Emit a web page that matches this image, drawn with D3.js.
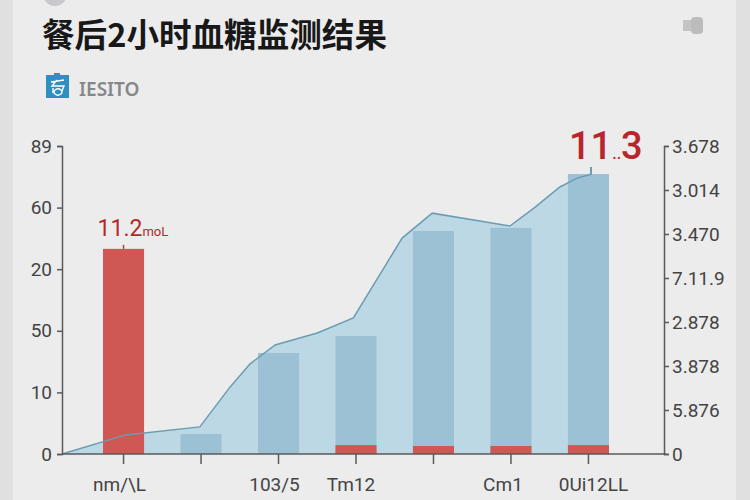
<!DOCTYPE html>
<html lang="zh">
<head>
<meta charset="UTF-8">
<title>餐后2小时血糖监测结果</title>
<style>
	body { margin: 0; background: #ececec; }
	svg { display: block; }
	text { font-family: Roboto, sans-serif; }
	.axis text { font-size: 19px; fill: #444; }
	.axis line, .axis path { stroke: #5a5a5a; stroke-width: 1.5; }
</style>
</head>
<body>
<svg width="750" height="500"></svg>
<script src="https://d3js.org/d3.v7.min.js"></script>
<script>
// values
var categories = ["nm/\\L", "", "103/5", "Tm12", "", "Cm1", "0Ui12LL"];
var blueBars = [0, 6.5, 32.8, 38.3, 72.4, 73.4, 90.9];
var redBars = [66.6, 0, 0, 2.9, 2.6, 2.6, 2.9];
var lineX = [0, 10.6, 22.9, 27.9, 31.2, 35.4, 42.4, 48.4, 56.5, 61.5, 74.4, 78.5, 82.7, 85.5, 88];
var lineY = [0, 6.2, 8.8, 21.7, 29.2, 35.4, 39.3, 44.2, 70.1, 78.2, 74, 80, 86.7, 89.5, 90.9];
var leftTicks = ["0", "10", "50", "20", "60", "89"];
var rightTicks = ["0", "5.876", "3.878", "2.878", "7.11.9", "3.470", "3.014", "3.678"];

var svg = d3.select("svg");

var y = d3.scaleLinear().domain([0, 100]).range([454, 146]);
var xLine = d3.scaleLinear().domain([0, 100]).range([62, 664]);
var x = d3.scaleBand().domain(d3.range(categories.length)).range([84.8, 627.2])
	.paddingInner(0.47).paddingOuter(0.235);
var yLeft = d3.scalePoint().domain(leftTicks).range([454, 146]);
var yRight = d3.scalePoint().domain(rightTicks).range([454, 146]);

// page background strips
svg.append("rect").attr("width", 13).attr("height", 500).attr("fill", "#e0e0e0");
svg.append("rect").attr("x", 736).attr("width", 14).attr("height", 500).attr("fill", "#e0e0e0");
svg.append("circle").attr("cx", 55).attr("cy", -6).attr("r", 12).attr("fill", "#c9c9cb");

// speaker-like icon top right
svg.append("rect").attr("x", 683).attr("y", 20).attr("width", 9).attr("height", 11).attr("fill", "#c4c4c4");
svg.append("rect").attr("x", 691).attr("y", 17).attr("width", 12).attr("height", 17).attr("rx", 4).attr("fill", "#bcbcbc");

svg.append("text").attr("x", 42).attr("y", 47)
	.style("font-family", "'Noto Sans CJK SC'").style("font-weight", 700)
	.style("font-size", "32.6px").attr("fill", "#181818")
	.text("餐后2小时血糖监测结果");

// logo
var logo = svg.append("g").attr("transform", "translate(46,73)");
logo.append("rect").attr("x", 8).attr("width", 6).attr("height", 4).attr("fill", "#2f8fc0");
logo.append("rect").attr("y", 2).attr("width", 23).attr("height", 23).attr("fill", "#2f8fc0");
logo.append("path").attr("d", "M5 9 L18 7 M11 7 L6 13 L18 13 L16 18 M7 15 V20 M9 21 a4 3 0 1 0 6 -4 a4 3 0 1 0 -6 4")
	.attr("fill", "none").attr("stroke", "#fff").attr("stroke-width", 1.4);
svg.append("text").attr("x", 79).attr("y", 96)
	.style("font-family", "'Noto Sans'")
	.style("font-size", "19px").style("font-weight", 600).attr("fill", "#85888b").text("IESITO");

// area and bars
svg.append("path").datum(d3.range(lineX.length))
	.attr("fill", "#bcd8e5")
	.attr("d", d3.area().x(function (i) { return xLine(lineX[i]); }).y0(y(0)).y1(function (i) { return y(lineY[i]); }));

svg.selectAll(".blue").data(blueBars).enter().append("rect")
	.attr("class", "blue")
	.attr("x", function (d, i) { return x(i); })
	.attr("y", function (d) { return y(d); })
	.attr("width", x.bandwidth())
	.attr("height", function (d) { return y(0) - y(d); })
	.attr("fill", "#9cc1d4");

svg.selectAll(".red").data(redBars).enter().append("rect")
	.attr("class", "red")
	.attr("x", function (d, i) { return x(i); })
	.attr("y", function (d) { return y(d); })
	.attr("width", x.bandwidth())
	.attr("height", function (d) { return y(0) - y(d); })
	.attr("fill", "#cf5855");

svg.append("path").datum(d3.range(lineX.length))
	.attr("fill", "none").attr("stroke", "#6a9db3").attr("stroke-width", 1.5)
	.attr("d", d3.line().x(function (i) { return xLine(lineX[i]); }).y(function (i) { return y(lineY[i]); }));

// axes
var bottom = svg.append("g").attr("class", "axis").attr("transform", "translate(0,454)")
	.call(d3.axisBottom(x).tickSizeOuter(0).tickSize(10).tickPadding(14).tickFormat(function (i) { return categories[i]; }));
bottom.select(".domain").remove();
var labelShift = [-4, 0, -4, -5, 0, -8, 5];
bottom.selectAll("text").attr("dx", function (d, i) { return labelShift[i]; });
svg.append("line").attr("x1", xLine(0)).attr("x2", xLine(100) + 2).attr("y1", y(0)).attr("y2", y(0))
	.attr("stroke", "#5a5a5a").attr("stroke-width", 1.5);

svg.append("g").attr("class", "axis").attr("transform", "translate(62,0)")
	.call(d3.axisLeft(yLeft).tickSizeOuter(0).tickSize(5).tickPadding(5));
svg.append("g").attr("class", "axis").attr("transform", "translate(664,0)")
	.call(d3.axisRight(yRight).tickSizeOuter(0).tickSize(5).tickPadding(3));

// value labels
var red = "#b8262b";
var lab1 = svg.append("text").attr("x", x(0) + x.bandwidth() / 2 - 26).attr("y", 236)
	.attr("fill", red).style("font-size", "23px");
lab1.append("tspan").text("11.2");
lab1.append("tspan").style("font-size", "13px").text("moL");
var lab2 = svg.append("text").attr("x", 569).attr("y", 159)
	.attr("fill", red).style("font-size", "38px").style("font-weight", 500);
lab2.append("tspan").text("11");
lab2.append("tspan").style("font-size", "16px").text("..");
lab2.append("tspan").text("3");

svg.append("line").attr("x1", x(0) + x.bandwidth() / 2).attr("x2", x(0) + x.bandwidth() / 2)
	.attr("y1", y(redBars[0])).attr("y2", y(redBars[0]) - 4).attr("stroke", "#a5403f").attr("stroke-width", 1.5);
svg.append("line").attr("x1", 591).attr("x2", 591)
	.attr("y1", y(blueBars[6])).attr("y2", y(blueBars[6]) - 7).attr("stroke", "#6a9db3").attr("stroke-width", 2);
</script>
</body>
</html>
